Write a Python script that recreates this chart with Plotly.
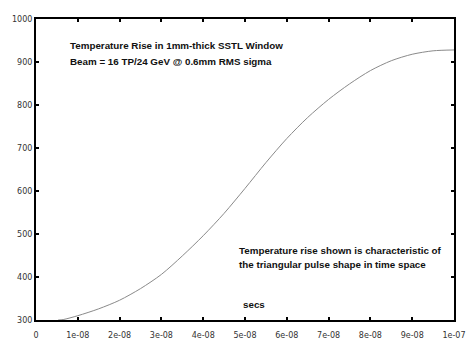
import plotly.graph_objects as go

# time in seconds, temperature
time_s = [5.3e-9, 6.5e-9, 1.0e-8, 1.5e-8, 2.0e-8, 2.5e-8, 3.0e-8, 3.5e-8, 4.0e-8,
          4.5e-8, 5.0e-8, 5.5e-8, 6.0e-8, 6.5e-8, 7.0e-8, 7.5e-8, 8.0e-8, 8.5e-8,
          9.0e-8, 9.5e-8, 1.0e-7]
temp = [300, 301, 310, 326, 346, 373, 406, 449, 496,
        548, 606, 666, 722, 771, 813, 849, 880, 903,
        918, 926, 928]

x_tickvals = [0, 1e-8, 2e-8, 3e-8, 4e-8, 5e-8, 6e-8, 7e-8, 8e-8, 9e-8, 1e-7]
x_ticktext = ["0", "1e-08", "2e-08", "3e-08", "4e-08", "5e-08", "6e-08", "7e-08", "8e-08", "9e-08", "1e-07"]
y_tickvals = [300, 400, 500, 600, 700, 800, 900, 1000]

title_lines = ["Temperature Rise in 1mm-thick SSTL Window",
               "Beam = 16 TP/24 GeV @ 0.6mm RMS sigma"]
note_lines = ["Temperature rise shown is characteristic of",
              "the triangular pulse shape in time space"]
unit_label = "secs"

fig = go.Figure()
fig.add_trace(go.Scatter(x=time_s, y=temp, mode="lines",
                         line=dict(color="#8a8a8a", width=1, shape="spline", smoothing=0.8),
                         showlegend=False))

bold_font = dict(family="Liberation Sans, Arial, sans-serif", size=9.8, color="#111111")

def add_text(txt, x, y):
    fig.add_annotation(x=x, y=y, xref="paper", yref="paper", text="<b>" + txt + "</b>",
                       showarrow=False, xanchor="left", yanchor="middle", align="left",
                       font=bold_font)

add_text(title_lines[0], 0.0766, 0.911)
add_text(title_lines[1], 0.0766, 0.859)
add_text(note_lines[0], 0.481, 0.231)
add_text(note_lines[1], 0.481, 0.186)
add_text(unit_label, 0.490, 0.050)

axis_common = dict(showgrid=False, zeroline=False, showline=True, linecolor="#000000",
                   linewidth=2, mirror="ticks", ticks="inside", ticklen=3,
                   tickwidth=1.5, tickcolor="#000000",
                   tickfont=dict(family="DejaVu Sans, sans-serif", size=8, color="#333333"))
fig.update_xaxes(range=[0, 1e-7], tickvals=x_tickvals, ticktext=x_ticktext,
                 ticklabelstandoff=6, **axis_common)
fig.update_yaxes(range=[300, 1000], tickvals=y_tickvals, **axis_common)

# the page body adds an 8px offset, so margins are compensated
fig.update_layout(width=474, height=364, margin=dict(l=28, r=28, t=11, b=52, autoexpand=False),
                  plot_bgcolor="white", paper_bgcolor="white")
fig.write_html("out.html")
